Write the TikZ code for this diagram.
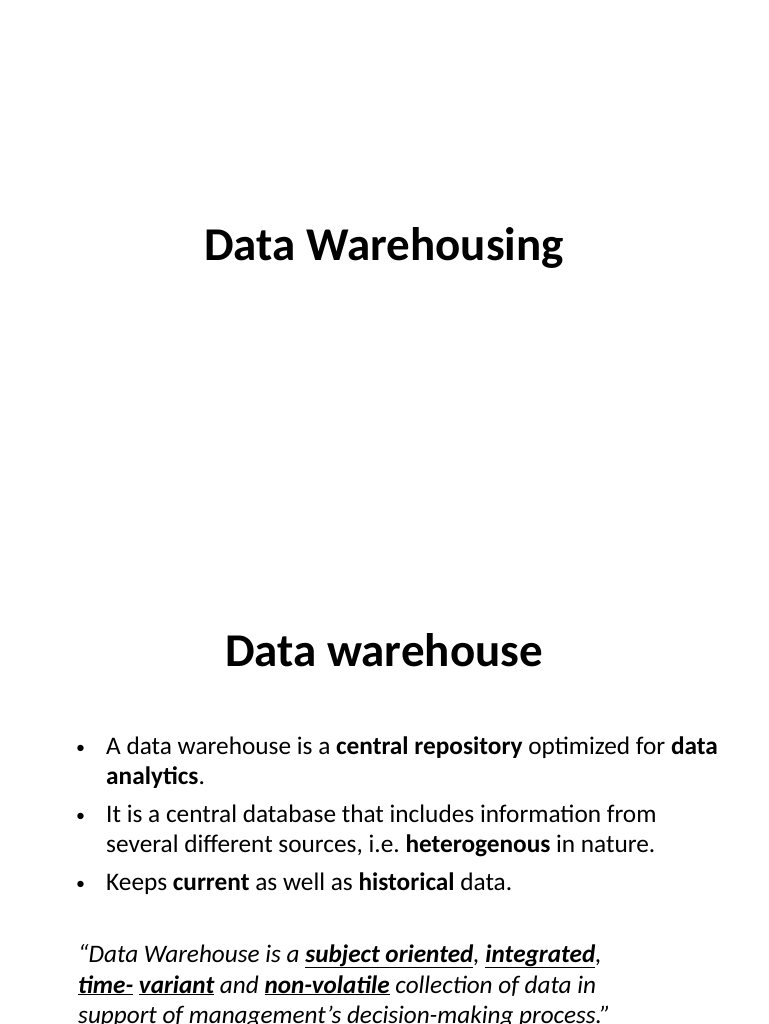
\documentclass[tikz,border=0pt]{standalone}
\usepackage{fontspec}
\setmainfont{Carlito}
\frenchspacing
\begin{document}
\begin{tikzpicture}[x=1pt,y=-1pt,
  title/.style={font=\fontsize{47}{56}\selectfont\bfseries,anchor=base},
  body/.style={font=\fontsize{25.3}{30}\selectfont,anchor=base west,inner sep=0pt},
  quote/.style={font=\fontsize{25.2}{30}\selectfont\itshape,anchor=base west,inner sep=0pt},
  dot/.style={font=\fontsize{18}{22}\selectfont,anchor=base west,inner sep=0pt}]
\useasboundingbox (0,0) rectangle (768,1024);
\clip (0,0) rectangle (768,1024);
\fill[white] (0,0) rectangle (768,1024);
\node[title] (t1) at (384,260) {Data Warehousing};
\node[title] (t2) at (384,666) {Data warehouse};
\node[dot] (b1) at (76,753) {•};
\node[body] (l1) at (106,754) {A data warehouse is a \textbf{central repository} optimized for \textbf{data}};
\node[body] (l2) at (106,784) {\textbf{analytics}.};
\node[dot] (b2) at (76,821) {•};
\node[body] (l3) at (106,822) {It is a central database that includes information from};
\node[body] (l4) at (106,852) {several different sources, i.e. \textbf{heterogenous} in nature.};
\node[dot] (b3) at (76,889) {•};
\node[body] (l5) at (106,890) {Keeps \textbf{current} as well as \textbf{historical} data.};
\node[quote] (q1) at (78,962) {“Data Warehouse is a \textbf{\underline{subject oriented}}, \textbf{\underline{integrated}},};
\node[quote] (q2) at (78,993) {\textbf{\underline{time-}} \textbf{\underline{variant}} and \textbf{\underline{non-volatile}} collection of data in};
\node[quote] (q3) at (78,1023) {support of management’s decision-making process.”};
\end{tikzpicture}
\end{document}
